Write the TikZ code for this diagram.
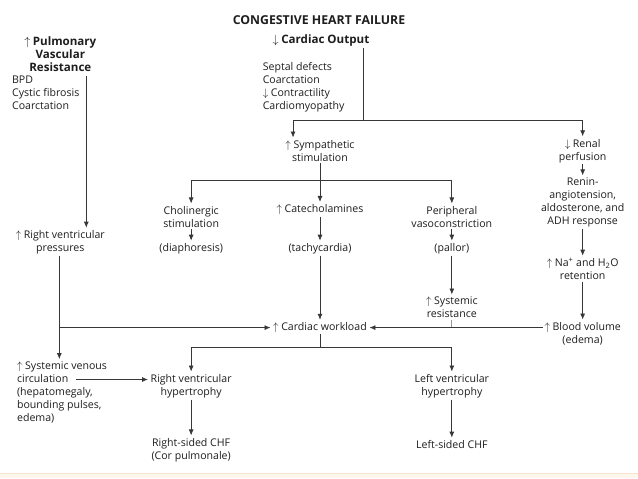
\documentclass[tikz,border=0pt]{standalone}
\usepackage{fontspec}
\setmainfont{Open Sans}
\usetikzlibrary{arrows.meta}
\newcommand\upa{\ensuremath{\uparrow}\hspace{2.6pt}}
\newcommand\dna{\ensuremath{\downarrow}\hspace{2.6pt}}
\definecolor{txt}{RGB}{30,30,30}
\definecolor{lncol}{RGB}{55,55,55}
\definecolor{faintcol}{RGB}{150,150,150}
\definecolor{bandcol}{RGB}{253,246,236}
\definecolor{bandline}{RGB}{248,228,205}
\begin{document}
\begin{tikzpicture}[x=1pt,y=-1pt,
  every node/.style={font=\fontsize{10.6}{13}\selectfont, text=txt, inner sep=1.5pt, align=center},
  hd/.style={font=\fontsize{11.6}{13}\selectfont\bfseries},
  ttl/.style={font=\fontsize{12.3}{14}\selectfont\bfseries},
  lst/.style={anchor=west, align=left},
  conn/.style={draw=lncol, line width=0.8pt},
  faint/.style={draw=faintcol, line width=0.8pt},
  arr/.style={draw=lncol, line width=0.8pt, -{Latex[length=6pt,width=5pt]}, shorten >=1pt}]
\fill[white] (0,0) rectangle (638,479);
\fill[bandcol] (0,474) rectangle (638,479);
\draw[bandline, line width=0.8pt] (0,474) -- (638,474);
\useasboundingbox (0,0) rectangle (638,479);

% nodes
\node[ttl] (title) at (319,20) {CONGESTIVE HEART FAILURE};
\node[hd] (pvr) at (60,54) {\upa Pulmonary\\Vascular\\Resistance};
\node[lst] (pvrl) at (10,93) {BPD\\Cystic fibrosis\\Coarctation};
\node[hd] (co) at (321,41) {\dna Cardiac Output};
\node[lst] (col) at (261,87) {Septal defects\\Coarctation\\\dna Contractility\\Cardiomyopathy};
\node (symp) at (320,151) {\upa Sympathetic\\stimulation};
\node (renal) at (583,151) {\dna Renal\\perfusion};
\node (renin) at (583,203) {Renin-\\angiotension,\\aldosterone, and\\ADH response};
\node (na) at (583,269.5) {\upa Na\textsuperscript{+} and H\textsubscript{2}O\\retention};
\node (blood) at (583,334) {\upa Blood volume\\(edema)};
\node (rvp) at (60,242.5) {\upa Right ventricular\\pressures};
\node (chol) at (191,217) {Cholinergic\\stimulation};
\node (diaph) at (191,249) {(diaphoresis)};
\node (cat) at (320,210) {\upa Catecholamines};
\node (tachy) at (320,249) {(tachycardia)};
\node (per) at (452,217) {Peripheral\\vasoconstriction};
\node (pallor) at (452,249) {(pallor)};
\node (sysres) at (452,308) {\upa Systemic\\resistance};
\node (cw) at (320,328) {\upa Cardiac workload};
\node[lst] (svc) at (15,393) {\upa Systemic venous\\circulation\\(hepatomegaly,\\bounding pulses,\\edema)};
\node (rvh) at (191,386.5) {Right ventricular\\hypertrophy};
\node (lvh) at (452,386.5) {Left ventricular\\hypertrophy};
\node (rchf) at (191,450.5) {Right-sided CHF\\(Cor pulmonale)};
\node (lchf) at (452,445) {Left-sided CHF};

% connectors
\coordinate (pv) at (86,76);
\draw[arr] (pv) -- (pv |- rvp.north);
\coordinate (cj) at (363,121);
\draw[conn] (cj |- co.south) -- (cj);
\coordinate (sl) at (293,121);
\coordinate (sr) at (583,121);
\draw[conn] (sl) -- (sr);
\draw[arr] (sl) -- (sl |- symp.north);
\draw[arr] (sr) -- (renal.north);
\draw[arr] (renal) -- (renin);
\draw[arr] (renin) -- (na);
\draw[arr] (na) -- (blood);
\draw[arr] (symp) -- (cat);
\coordinate (bl) at (191,181);
\coordinate (br) at (452,181);
\draw[conn] (bl) -- (br);
\draw[arr] (bl) -- (chol);
\draw[arr] (br) -- (per);
\draw[arr] (chol) -- (diaph);
\draw[arr] (cat) -- (tachy);
\draw[arr] (tachy) -- (cw);
\draw[arr] (per) -- (pallor);
\draw[arr] (pallor) -- (sysres);
\draw[faint] (sysres) -- (sysres |- cw);
\draw[arr] (blood.west |- cw) -- (cw.east);
\coordinate (rj) at (59,328);
\draw[conn] (rvp.south -| rj) -- (rj);
\draw[arr] (rj) -- (cw.west);
\draw[arr] (rj) -- (rj |- svc.north);
\coordinate (cwj) at (320,348);
\coordinate (rl) at (191,348);
\coordinate (ll) at (452,348);
\draw[conn] (cw) -- (cwj);
\draw[conn] (rl) -- (ll);
\draw[arr] (rl) -- (rvh);
\draw[arr] (ll) -- (lvh);
\coordinate (sc) at (76,380);
\draw[arr] (sc) -- (sc -| rvh.west);
\draw[arr] (rvh) -- (rchf);
\draw[arr] (lvh) -- (lchf);
\end{tikzpicture}
\end{document}
